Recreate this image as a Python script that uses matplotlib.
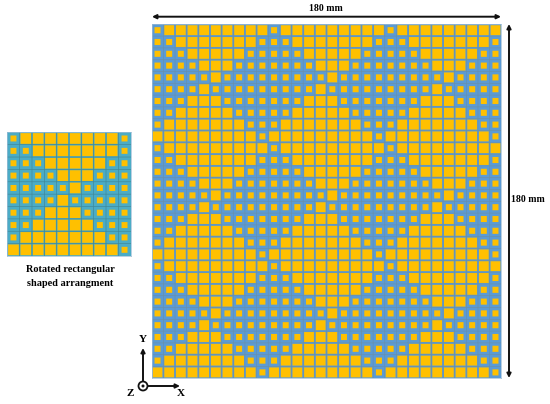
''' Periodic patch array: one rotated rectangular unit cell and the 3x3 tiled panel. '''
import matplotlib
matplotlib.use('Agg')
import matplotlib.pyplot as plt
from matplotlib.patches import Rectangle, Circle

plt.rcParams['font.family'] = ['Liberation Serif', 'DejaVu Serif']

# L = large patch, S = small patch, top row first
unit_rows = ['SLLLLLLLLS',
             'SSLLLLLLLS',
             'SSSLLLLLSS',
             'SSSSLLLSSS',
             'SSSSSLSSSS',
             'SSSSLSSSSS',
             'SSSLLLSSSS',
             'SSLLLLLSSS',
             'SLLLLLLLSS',
             'LLLLLLLLLS']
big_rows = ['SLLLLLLLLL',
            'SSLLLLLLLS',
            'SSSLLLLLSS',
            'SSSSLLLSSS',
            'SSSSSLSSSS',
            'SSSSLSSSSS',
            'SSSLLLSSSS',
            'SSLLLLLSSS',
            'SLLLLLLLSS',
            'LLLLLLLLLS']
n_tiles = 3
pitch_mm = 6.0
unit_large_mm = 5.2
unit_small_mm = 2.9
big_large_mm = 5.05
big_small_mm = 3.1
dim_label = '180 mm'
caption = ['Rotated rectangular', 'shaped arrangment']

W, H = 550, 404
YELLOW = '#ffc000'


def draw_panel(ax, rows, pitch, large, small, bg, grid):
    ''' Draw the patches from a list of L/S rows, row 0 at the top. '''
    nrow, ncol = len(rows), len(rows[0])
    ax.set_xlim(0, ncol * pitch)
    ax.set_ylim(nrow * pitch, 0)
    ax.set_facecolor(bg)
    ax.set_xticks([])
    ax.set_yticks([])
    for s in ax.spines.values():
        s.set_color('#9dbcd6')
        s.set_linewidth(0.5)
    for i in range(1, ncol):
        ax.axvline(i * pitch, color=grid, lw=0.45, snap=False)
    for j in range(1, nrow):
        ax.axhline(j * pitch, color=grid, lw=0.45, snap=False)
    for j, row in enumerate(rows):
        for i, c in enumerate(row):
            side = large if c == 'L' else small
            x0 = (i + 0.5) * pitch - side / 2
            y0 = (j + 0.5) * pitch - side / 2
            ax.add_patch(Rectangle((x0, y0), side, side, fc=YELLOW, ec='none', snap=False))


def px_axes(fig, left, top, right, bottom):
    ''' Axes placed from pixel edges, y measured from the top. '''
    return fig.add_axes([left / W, 1 - bottom / H, (right - left) / W, (bottom - top) / H])


def arrow(ax, start, end, lw=1.4, style='<|-|>'):
    ax.annotate('', xy=end, xytext=start,
                arrowprops=dict(arrowstyle=style, color='#111111', lw=lw,
                                shrinkA=0, shrinkB=0, mutation_scale=6))


fig = plt.figure(figsize=(W / 100, H / 100), dpi=100)

ax_unit = px_axes(fig, 7.3, 132.3, 130.7, 256)
draw_panel(ax_unit, unit_rows, pitch_mm, unit_large_mm, unit_small_mm, '#4bacc6', '#3f8596')

ax_big = px_axes(fig, 151.7, 24.3, 501.3, 378.3)
tiled = [row * n_tiles for row in big_rows] * n_tiles
draw_panel(ax_big, tiled, pitch_mm, big_large_mm, big_small_mm, '#5b9bd5', '#6a8fa8')

# overlay in pixel coordinates for dimension arrows, axis triad and labels
ov = fig.add_axes([0, 0, 1, 1])
ov.set_xlim(0, W)
ov.set_ylim(H, 0)
ov.axis('off')
ov.patch.set_alpha(0)

arrow(ov, (152, 16.7), (501, 16.7))
arrow(ov, (509, 24), (509, 378))
ov.text(326, 8.5, dim_label, ha='center', va='center', fontsize=7, fontweight='bold')
ov.text(528, 200, dim_label, ha='center', va='center', fontsize=7, fontweight='bold')
for k, line in enumerate(caption):
    ov.text(70, 270 + k * 14, line, ha='center', va='center', fontsize=7.4, fontweight='bold')

arrow(ov, (143, 386), (143, 348), style='-|>')
arrow(ov, (143, 386), (180, 386), style='-|>')
ov.add_patch(Circle((143, 386), 4.5, fc='white', ec='#111111', lw=1.3, zorder=5))
ov.add_patch(Circle((143, 386), 1.5, fc='#111111', ec='none', zorder=6))
ov.text(143, 339, 'Y', ha='center', va='center', fontsize=8, fontweight='bold')
ov.text(181, 394, 'X', ha='center', va='center', fontsize=8, fontweight='bold')
ov.text(130, 393, 'Z', ha='center', va='center', fontsize=8, fontweight='bold')

fig.savefig('out.png', dpi=100)
plt.close(fig)
